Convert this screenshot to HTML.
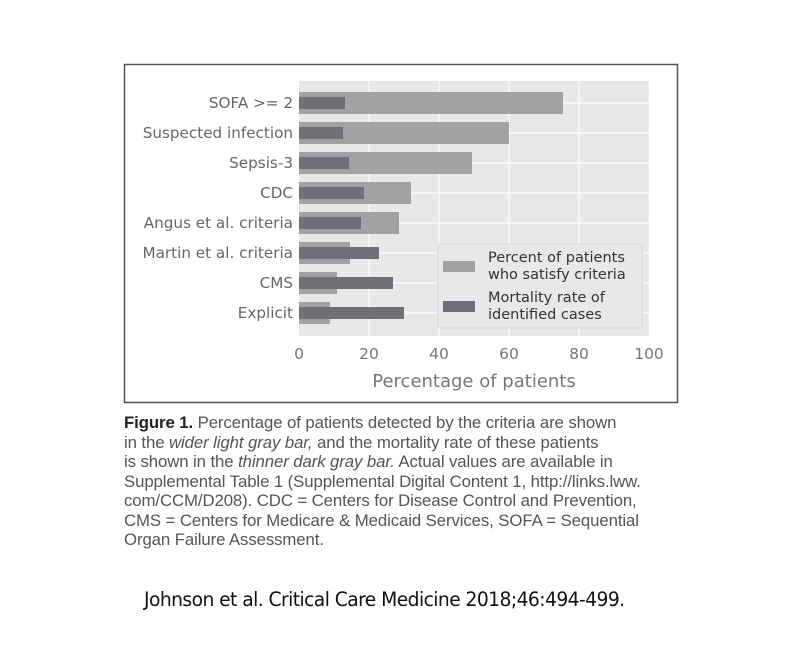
<!DOCTYPE html>
<html><head><meta charset="utf-8"><style>
body{margin:0;background:#fff;width:800px;height:666px;overflow:hidden;position:relative;font-family:"Liberation Sans",sans-serif}
.cap{position:absolute;left:124px;top:413px;font-size:16.8px;line-height:19.5px;color:#555;letter-spacing:-0.1px;white-space:nowrap}
.cap b{color:#222}
.cit{position:absolute;left:144px;top:588px;font-size:19.5px;color:#111;font-family:"DejaVu Sans",sans-serif;letter-spacing:-0.6px;transform:scaleX(0.96);transform-origin:left top;white-space:nowrap}
</style></head><body>
<svg width="800" height="666" style="position:absolute;left:0;top:0">
<rect x="124.5" y="64.5" width="553" height="338" fill="#fff" stroke="#555" stroke-width="1.5"/>
<rect x="299" y="81" width="350" height="255" fill="#e8e8ea"/>
<g stroke="#fff" stroke-width="1.2">
<line x1="369" y1="81" x2="369" y2="336"/><line x1="439" y1="81" x2="439" y2="336"/><line x1="509" y1="81" x2="509" y2="336"/><line x1="579" y1="81" x2="579" y2="336"/>
<line x1="299" y1="103" x2="649" y2="103"/><line x1="299" y1="133" x2="649" y2="133"/><line x1="299" y1="163" x2="649" y2="163"/><line x1="299" y1="193" x2="649" y2="193"/><line x1="299" y1="223" x2="649" y2="223"/><line x1="299" y1="253" x2="649" y2="253"/><line x1="299" y1="283" x2="649" y2="283"/><line x1="299" y1="313" x2="649" y2="313"/>
</g>
<g fill="#a2a2a5">
<rect x="299" y="92" width="264" height="22"/>
<rect x="299" y="122" width="210" height="22"/>
<rect x="299" y="152" width="173" height="22"/>
<rect x="299" y="182" width="112" height="22"/>
<rect x="299" y="212" width="100" height="22"/>
<rect x="299" y="242" width="51" height="22"/>
<rect x="299" y="272" width="38" height="22"/>
<rect x="299" y="302" width="31" height="22"/>
</g>
<g fill="#6f6f74">
<rect x="299" y="97" width="46" height="12"/>
<rect x="299" y="127" width="44" height="12"/>
<rect x="299" y="157" width="50" height="12"/>
<rect x="299" y="187" width="65" height="12"/>
<rect x="299" y="217" width="62" height="12"/>
<rect x="299" y="247" width="80" height="12"/>
<rect x="299" y="277" width="94" height="12"/>
<rect x="299" y="307" width="105" height="12"/>
</g>
<rect x="438" y="244" width="204" height="84" fill="#e8e8ea" stroke="#d8d8da" rx="2"/>
<rect x="443" y="261" width="32" height="11" fill="#a2a2a5"/>
<rect x="443" y="301" width="32" height="11" fill="#6f6f74"/>
<g font-family="DejaVu Sans,sans-serif" font-size="14.5" fill="#333">
<text x="488" y="262">Percent of patients</text>
<text x="488" y="279">who satisfy criteria</text>
<text x="488" y="302">Mortality rate of</text>
<text x="488" y="319">identified cases</text>
</g>
<g font-family="DejaVu Sans,sans-serif" font-size="15.2" fill="#666" text-anchor="end">
<text x="293" y="108">SOFA &gt;= 2</text>
<text x="293" y="138">Suspected infection</text>
<text x="293" y="168">Sepsis-3</text>
<text x="293" y="198">CDC</text>
<text x="293" y="228">Angus et al. criteria</text>
<text x="293" y="258">Martin et al. criteria</text>
<text x="293" y="288">CMS</text>
<text x="293" y="318">Explicit</text>
</g>
<g font-family="DejaVu Sans,sans-serif" font-size="15.5" fill="#777" text-anchor="middle">
<text x="299" y="359">0</text><text x="369" y="359">20</text><text x="439" y="359">40</text><text x="509" y="359">60</text><text x="579" y="359">80</text><text x="649" y="359">100</text>
<text x="474" y="387" font-size="18">Percentage of patients</text>
</g>
</svg>
<div class="cap"><b>Figure 1.</b> Percentage of patients detected by the criteria are shown<br>in the <i>wider light gray bar,</i> and the mortality rate of these patients<br>is shown in the <i>thinner dark gray bar.</i> Actual values are available in<br>Supplemental Table 1 (Supplemental Digital Content 1, http://links.lww.<br>com/CCM/D208). CDC = Centers for Disease Control and Prevention,<br>CMS = Centers for Medicare &amp; Medicaid Services, SOFA = Sequential<br>Organ Failure Assessment.</div>
<div class="cit">Johnson et al. Critical Care Medicine 2018;46:494-499.</div>
</body></html>
